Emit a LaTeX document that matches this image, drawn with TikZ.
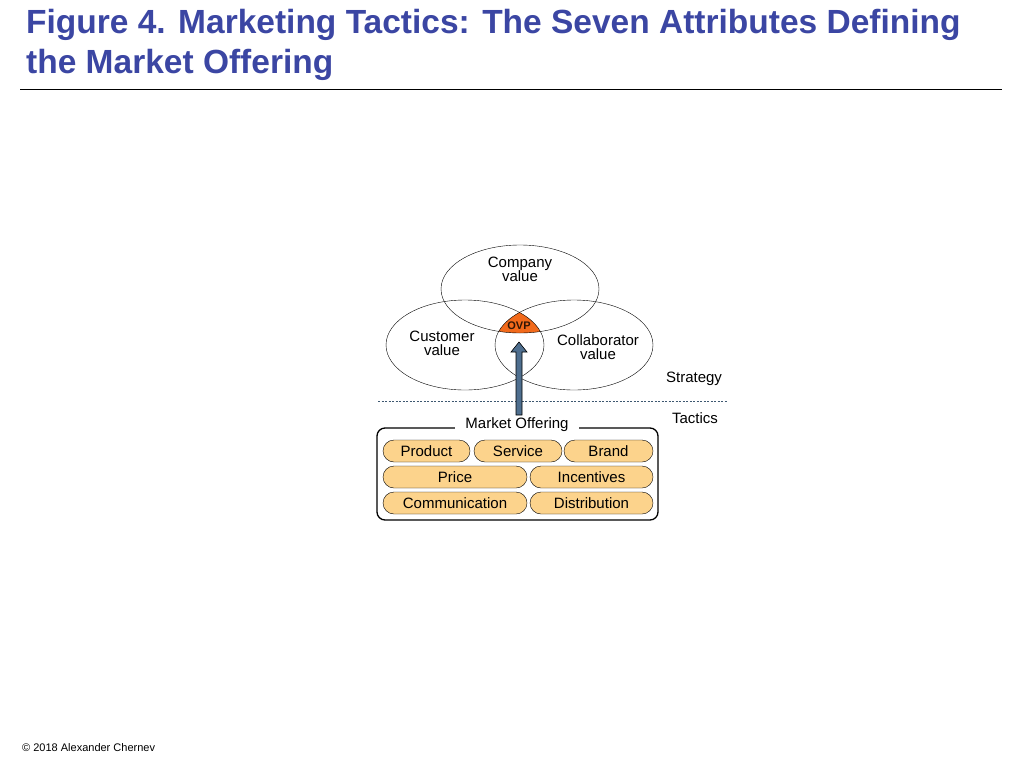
\documentclass[tikz,border=0pt]{standalone}
\usepackage{fontspec}
\setmainfont{Liberation Sans}
\usetikzlibrary{shapes.geometric}
\definecolor{ttl}{HTML}{3B46A3}
\definecolor{pill}{HTML}{FCD38C}
\definecolor{ovp}{HTML}{F26A1B}
\definecolor{arr}{HTML}{4E6E8E}
\begin{document}
\begin{tikzpicture}[x=1pt,y=-1pt,
  txt/.style={font=\fontsize{15}{14}\selectfont, align=center, inner sep=0pt},
  pillbox/.style={draw, fill=pill, rounded corners=11pt, minimum height=22pt, inner sep=0pt, font=\fontsize{15}{15}\selectfont, anchor=center}]
\useasboundingbox (0,0) rectangle (1024,768);
\node[anchor=north west, text=ttl, font=\bfseries\fontsize{33.5}{40}\selectfont, align=left, inner sep=0pt] (title) at (26,9) {Figure 4. Marketing Tactics: The Seven Attributes Defining\\the Market Offering};
\coordinate (l1) at (20,89); \coordinate (l2) at (1002,89);
\draw[line width=0.7pt] (l1) -- (l2);
% OVP region
\begin{scope}
\clip (520,289) ellipse [x radius=79, y radius=44];
\clip (465,345) ellipse [x radius=79, y radius=45];
\fill[ovp] (574,345) ellipse [x radius=79, y radius=45];
\end{scope}
\draw (520,289) ellipse [x radius=79, y radius=44];
\draw (465,345) ellipse [x radius=79, y radius=45];
\draw (574,345) ellipse [x radius=79, y radius=45];
\node[txt] (comp) at (520,269) {Company\\value};
\node[txt] (cust) at (442,343) {Customer\\value};
\node[txt] (coll) at (598,347) {Collaborator\\value};
\node[font=\bfseries\fontsize{11}{11}\selectfont, inner sep=0pt, text=black!80!ovp] (ovpt) at (519,326) {OVP};
\node[txt] (strat) at (694,379) {Strategy};
\node[txt] (tact) at (695,418) {Tactics};
\coordinate (d1) at (378,401); \coordinate (d2) at (728,401);
\draw[dash pattern=on 2pt off 1.5pt, line width=0.8pt, arr!80!black] (d1) -- (d2);
\draw[line width=1.3pt, rounded corners=8pt] (377,428) rectangle (658,520);
\node[txt, fill=white, inner xsep=10pt, inner ysep=2pt] (mo) at (517,425) {Market Offering};
% arrow
\draw[fill=arr, line width=0.6pt] (516,415) -- (516,352) -- (511,352) -- (519,342) -- (527,352) -- (522,352) -- (522,415) -- cycle;
\node[pillbox, minimum width=87pt] (prod) at (426.5,451) {Product};
\node[pillbox, minimum width=88pt] (serv) at (518,451) {Service};
\node[pillbox, minimum width=89pt] (brand) at (608.5,451) {Brand};
\node[pillbox, minimum width=144pt] (price) at (455,477) {Price};
\node[pillbox, minimum width=123pt] (inc) at (591.5,477) {Incentives};
\node[pillbox, minimum width=144pt] (com) at (455,503) {Communication};
\node[pillbox, minimum width=123pt] (dist) at (591.5,503) {Distribution};
\node[anchor=west, font=\fontsize{11}{11}\selectfont, inner sep=0pt] (copy) at (22,748) {© 2018 Alexander Chernev};
\end{tikzpicture}
\end{document}
